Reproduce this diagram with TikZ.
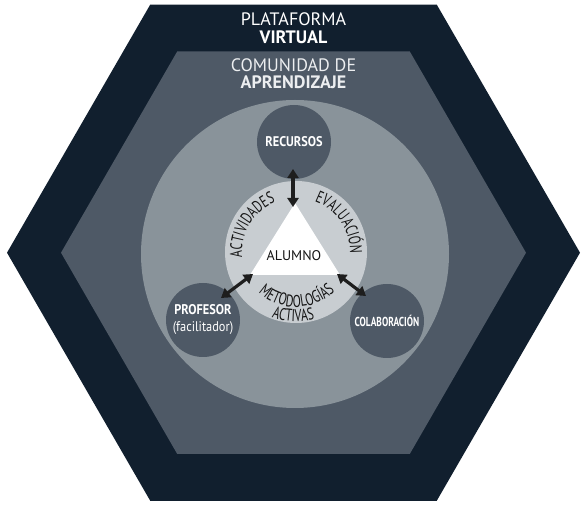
\documentclass[tikz,border=0pt]{standalone}
\usepackage{fontspec}
\setmainfont{PT Sans}
\newfontfamily\condA[FakeStretch=0.88]{PT Sans}
\newfontfamily\condB[FakeStretch=0.72]{PT Sans}
\newfontfamily\condC[FakeStretch=0.7]{PT Sans}
\newcommand\crvfont{\condC\fontsize{17pt}{18pt}\selectfont}
\usetikzlibrary{arrows.meta,decorations.text,calc}
\definecolor{navy}{HTML}{111F2E}
\definecolor{hexin}{HTML}{4E5966}
\definecolor{bigc}{HTML}{89939A}
\definecolor{innerc}{HTML}{C8CDD1}
\definecolor{arrowc}{HTML}{1E1E1E}
\definecolor{txtdark}{HTML}{151515}
\definecolor{offwhite}{HTML}{ECEEF0}
\tikzset{
  smallc/.style={circle, fill=hexin, minimum size=74pt, inner sep=0pt, text=white, align=center},
  title/.style={text=white, font=\fontsize{18pt}{20pt}\selectfont, inner sep=0pt},
  dbl/.style={{Triangle[width=11pt,length=9pt]}-{Triangle[width=11pt,length=9pt]}, line width=3.2pt, draw=arrowc},
  arctext/.style={font=\crvfont, decorate, decoration={text along path, text align=center, text color=txtdark}}
}
\begin{document}
\begin{tikzpicture}[x=1pt,y=1pt]
\useasboundingbox (0,0) rectangle (587,506);
% outer hexagon: virtual platform
\fill[navy] (580,253.3) -- (436.75,501.4) -- (150.25,501.4) -- (7,253.3) -- (150.25,5.2) -- (436.75,5.2) -- cycle;
% inner hexagon: learning community
\fill[hexin] (526,253.3) -- (409.75,454.6) -- (177.25,454.6) -- (61,253.3) -- (177.25,52) -- (409.75,52) -- cycle;
% big circle
\node[circle, fill=bigc, minimum size=308pt, inner sep=0pt] (big) at (295,252) {};
% inner light circle
\node[circle, fill=innerc, minimum size=142pt, inner sep=0pt] (inner) at (296,254) {};
% triangle
\coordinate (tl) at (250,231);
\coordinate (tr) at (340,231);
\coordinate (tt) at (295,303);
\fill[white] (tl) -- (tr) -- (tt) -- cycle;
\node[text=txtdark, font=\fontsize{14pt}{15pt}\selectfont, inner sep=0pt] (alumno) at (294,250) {ALUMNO};
% titles
\node[title] (plat) at (293.5,487) {PLATAFORMA};
\node[title, font=\fontsize{18pt}{20pt}\selectfont\bfseries] (virt) at (293.5,469) {VIRTUAL};
\node[title, text=offwhite] (comu) at (293.5,441) {COMUNIDAD DE};
\node[title, text=offwhite, font=\fontsize{18pt}{20pt}\selectfont\bfseries] (apre) at (293.5,424) {APRENDIZAJE};
% small circles
\node[smallc, font=\condA\fontsize{14pt}{16pt}\selectfont\bfseries] (rec) at (294,364) {RECURSOS};
\node[smallc, font=\condA\fontsize{14pt}{17pt}\selectfont] (prof) at (203,186) {{\bfseries PROFESOR}\\(facilitador)};
\node[smallc, font=\condB\fontsize{13pt}{15pt}\selectfont\bfseries] (cola) at (387,185) {COLABORACIÓN};
% arrows
\coordinate (recTip) at (293,337);
\coordinate (apexTip) at (293,299);
\coordinate (profTip) at (221,208);
\coordinate (blTip) at (253,232);
\coordinate (colTip) at (366,210);
\coordinate (brTip) at (337,232);
\draw[dbl] (recTip) -- (apexTip);
\draw[dbl] (profTip) -- (blTip);
\draw[dbl] (colTip) -- (brTip);
% curved texts
\path[arctext, decoration={text={|\crvfont|ACTIVIDADES}}] (inner.center) ++(194:54) arc[start angle=194, end angle=104, radius=54pt];
\path[arctext, decoration={text={|\crvfont|EVALUACIÓN}}] (inner.center) ++(76:54) arc[start angle=76, end angle=-8, radius=54pt];
\path[arctext, decoration={text={|\crvfont|METODOLOGÍAS}}] (inner.center) ++(218:55) arc[start angle=218, end angle=324, radius=55pt];
\path[arctext, decoration={text={|\crvfont|ACTIVAS}}] (inner.center) ++(240:69.5) arc[start angle=240, end angle=295, radius=69.5pt];
\end{tikzpicture}
\end{document}
